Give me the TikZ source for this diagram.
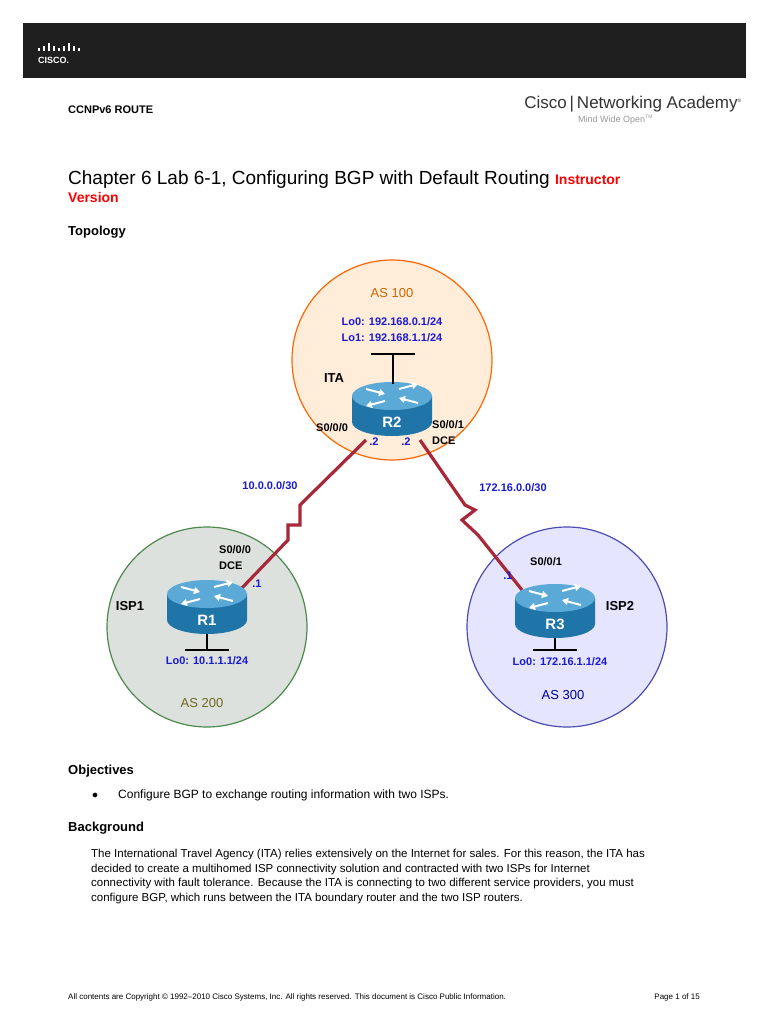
\documentclass[tikz,border=0pt]{standalone}
\usepackage{fontspec}
\setmainfont{Liberation Sans}
\usetikzlibrary{arrows.meta}
\definecolor{lnk}{HTML}{A8283A}
\definecolor{ipblue}{HTML}{1A1AD0}
\definecolor{rtop}{HTML}{5BA9D6}
\definecolor{rbody}{HTML}{1F74A8}
\tikzset{
 lbl/.style={font=\fontsize{11}{13}\selectfont\bfseries, inner sep=0pt},
 ip/.style={lbl, text=ipblue},
 rname/.style={font=\fontsize{15}{17}\selectfont\bfseries, text=white, inner sep=0pt},
 body/.style={font=\fontsize{11.5}{14.5}\selectfont, inner sep=0pt, anchor=north west, align=left},
 serial/.style={draw=lnk, line width=3.2pt},
}
\newcommand{\router}[3]{% center, name, text
 \begin{scope}[shift={#1}]
  \fill[rbody] (-40,-8) -- (-40,18) arc[start angle=180,end angle=0,x radius=40,y radius=14] -- (40,-8) -- cycle;
  \fill[rtop] (0,-8) ellipse[x radius=40, y radius=14];
  \draw[white, line width=2pt,-{Triangle[length=6pt,width=7pt]}] (-26,-15) -- (-7,-10);
  \draw[white, line width=2pt,-{Triangle[length=6pt,width=7pt]}] (26,-1) -- (7,-6);
  \draw[white, line width=2pt,-{Triangle[length=6pt,width=7pt]}] (7,-15) -- (26,-20);
  \draw[white, line width=2pt,-{Triangle[length=6pt,width=7pt]}] (-7,-3) -- (-26,2);
  \node[rname] (#2) at (0,18) {#3};
 \end{scope}}
\begin{document}
\begin{tikzpicture}[x=1pt,y=-1pt]
\useasboundingbox (0,0) rectangle (768,1024);
\fill[white] (0,0) rectangle (768,1024);
% header bar
\fill[black!88] (23,23) rectangle (746,78);
\foreach \x/\h in {38/3,43/5,48/8,53/5,58/3,63/5,68/8,73/5,78/3}
  \fill[white] (\x,51) rectangle ++(1.6,-\h);
\node[font=\fontsize{9}{10}\selectfont\bfseries, text=white, anchor=west, inner sep=0pt] (ciscologo) at (38,60) {CISCO.};
\node[font=\fontsize{11}{13}\selectfont\bfseries, anchor=west, inner sep=0pt] (route) at (68,110) {CCNPv6 ROUTE};
\node[font=\fontsize{17}{18}\selectfont, text=black!80, anchor=east, inner sep=0pt] (cna) at (742,104) {Cisco\,|\,Networking Academy\textsuperscript{\tiny\textregistered}};
\node[font=\fontsize{9}{10}\selectfont, text=black!40, anchor=west, inner sep=0pt] (mwo) at (578,120) {Mind Wide Open\textsuperscript{\tiny TM}};
% title
\node[anchor=base west, inner sep=0pt, font=\fontsize{19}{22}\selectfont] (title) at (68,185) {Chapter 6 Lab 6-1, Configuring BGP with Default Routing \textcolor{red}{\fontsize{14}{16}\selectfont\bfseries Instructor}};
\node[anchor=base west, inner sep=0pt, font=\fontsize{14}{16}\selectfont\bfseries, text=red] (ver) at (68,203) {Version};
\node[anchor=west, inner sep=0pt, font=\fontsize{13}{15}\selectfont\bfseries] (topo) at (68,232) {Topology};
% AS circles
\draw[draw=orange!80!red, fill=orange!15, line width=1.2pt] (392,360) circle[radius=100];
\draw[draw=black!40!green!40!gray, fill=black!6!green!6!gray!25, line width=1.2pt] (207,627) circle[radius=100];
\draw[draw=blue!40!gray, fill=blue!10!white, line width=1.2pt] (567,627) circle[radius=100];
\node[font=\fontsize{13}{15}\selectfont, text=orange!80!black, inner sep=0pt] (as100) at (392,293) {AS 100};
\node[font=\fontsize{13}{15}\selectfont, text=olive!70!black, inner sep=0pt] (as200) at (202,703) {AS 200};
\node[font=\fontsize{13}{15}\selectfont, text=blue!60!black, inner sep=0pt] (as300) at (563,695) {AS 300};
% serial links
\coordinate (r2l) at (366,440); \coordinate (r2r) at (420,440);
\coordinate (r1t) at (240,590); \coordinate (r3t) at (522,590);
\draw[serial] (r2l) -- (300,505) -- (300,525) -- (288,525) -- (288,540) -- (r1t);
\draw[serial] (r2r) -- (465,505) -- (475,510) -- (462,520) -- (478,535) -- (r3t);
% routers
\router{(392,404)}{r2}{R2}
\router{(207,602)}{r1}{R1}
\router{(555,606)}{r3}{R3}
% loopback T's
\draw[line width=2.2pt] (393,354) -- (393,384) (371,354) -- (415,354);
\draw[line width=2.2pt] (207,634) -- (207,650) (185,650) -- (229,650);
\draw[line width=2.2pt] (555,638) -- (555,650) (533,650) -- (577,650);
% labels
\node[ip] (lo0a) at (392,322) {Lo0: 192.168.0.1/24};
\node[ip] (lo1a) at (392,338) {Lo1: 192.168.1.1/24};
\node[lbl, font=\fontsize{13}{15}\selectfont\bfseries] (ita) at (334,378) {ITA};
\node[lbl, anchor=west] (s000) at (316,428) {S0/0/0};
\node[lbl, anchor=west] (s001) at (432,425) {S0/0/1};
\node[lbl, anchor=west] (dce2) at (432,441) {DCE};
\node[ip] (d2a) at (374,442) {.2};
\node[ip] (d2b) at (406,442) {.2};
\node[ip] (net1) at (270,486) {10.0.0.0/30};
\node[ip] (net2) at (513,488) {172.16.0.0/30};
\node[lbl, anchor=west] (s000b) at (219,550) {S0/0/0};
\node[lbl, anchor=west] (dce1) at (219,566) {DCE};
\node[ip] (d1) at (257,584) {.1};
\node[lbl, font=\fontsize{13}{15}\selectfont\bfseries] (isp1) at (130,606) {ISP1};
\node[ip] (lo0b) at (207,661) {Lo0: 10.1.1.1/24};
\node[lbl, anchor=west] (s001b) at (530,562) {S0/0/1};
\node[ip] (d3) at (508,576) {.1};
\node[lbl, font=\fontsize{13}{15}\selectfont\bfseries] (isp2) at (620,606) {ISP2};
\node[ip] (lo0c) at (560,662) {Lo0: 172.16.1.1/24};
% text
\node[anchor=west, inner sep=0pt, font=\fontsize{13}{15}\selectfont\bfseries] (obj) at (68,771) {Objectives};
\node[anchor=west, inner sep=0pt, font=\fontsize{12}{14}\selectfont] (bul) at (118,795) {\llap{$\bullet$\hspace{20pt}}Configure BGP to exchange routing information with two ISPs.};
\node[anchor=west, inner sep=0pt, font=\fontsize{13}{15}\selectfont\bfseries] (bg) at (68,828) {Background};
\node[body] (para) at (91,849) {The International Travel Agency (ITA) relies extensively on the Internet for sales. For this reason, the ITA has\\ decided to create a multihomed ISP connectivity solution and contracted with two ISPs for Internet\\ connectivity with fault tolerance. Because the ITA is connecting to two different service providers, you must\\ configure BGP, which runs between the ITA boundary router and the two ISP routers.};
\node[anchor=west, inner sep=0pt, font=\fontsize{8}{9}\selectfont] (copy) at (68,997) {All contents are Copyright \textcopyright\ 1992--2010 Cisco Systems, Inc. All rights reserved. This document is Cisco Public Information.};
\node[anchor=east, inner sep=0pt, font=\fontsize{8}{9}\selectfont] (page) at (700,997) {Page 1 of 15};
\end{tikzpicture}
\end{document}
